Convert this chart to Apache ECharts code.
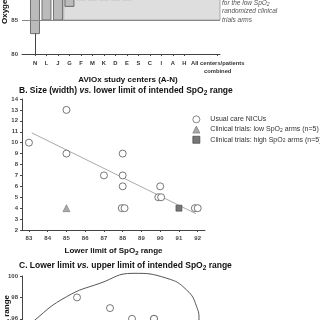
<!DOCTYPE html>
<html>
<head>
<meta charset="utf-8">
<script src="https://cdn.jsdelivr.net/npm/echarts@6/dist/echarts.min.js"></script>
<style>
html, body { margin: 0; padding: 0; background: #fff; }
#chart { width: 320px; height: 320px; }
</style>
</head>
<body>
<div id="chart"></div>
<script>
// A. intended SpO2 range per AVIOx centre (lower / upper limit)
const centers = ['N', 'L', 'J', 'G', 'F', 'M', 'K', 'D', 'E', 'S', 'C', 'I', 'A', 'H'];
const allLabel = 'All centers/patients\ncombined';
const rangeLow = [83, 85, 85, 87, 88, 88, 88, 88, 88, 90, 90, 90, 92, 92];
const rangeHigh = [93, 98, 94, 94, 97, 95, 94, 92, 92, 96, 95, 95, 96, 96];
const lowArmRange = [85, 89];

// B. width vs lower limit (twin circles drawn slightly apart, as in the figure)
const usualLower = [83, 85, 85, 87, 88, 88, 88, 87.95, 88.1, 90, 89.9, 90.05, 91.85, 92];
const usualWidth = [10, 13, 9, 7, 9, 7, 6, 4, 4, 6, 5, 5, 4, 4];
const lowArms = [[85, 4]];
const highArms = [[91, 4]];
const trendLine = [[83.15, 10.9], [91.9, 3.5]];
const bTicks = [83, 84, 85, 86, 87, 88, 89, 90, 91, 92];

// C. lower vs upper limit, with the enclosing curve
const lowArmsC = [[85, 89]];
const highArmsC = [[91, 95]];
const curveX = [79.6, 81.18, 84.06, 87.09, 90.09, 93.15, 94.97, 95.88, 96.09, 96.0];
const curveY = [94.2, 95.89, 98.07, 99.32, 100.25, 99.79, 98.69, 97.13, 95.89, 94.4];

const FONT = 'Liberation Sans';
const names = ['Usual care NICUs', 'Clinical trials: low SpO2 arms (n=5)', 'Clinical trials: high SpO2 arms (n=5)'];

const chart = echarts.init(document.getElementById('chart'));

const headRich = {
    b: { fontSize: 8.5, fontWeight: 'bold', lineHeight: 12, color: '#111', fontFamily: FONT },
    i: { fontSize: 8.5, fontWeight: 'bold', fontStyle: 'italic', lineHeight: 12, color: '#111', fontFamily: FONT },
    s: { fontSize: 6.5, fontWeight: 'bold', lineHeight: 6, verticalAlign: 'bottom', color: '#111', fontFamily: FONT }
};
const nameRich = {
    b: { fontSize: 8, fontWeight: 'bold', lineHeight: 11, color: '#111', fontFamily: FONT },
    s: { fontSize: 6, fontWeight: 'bold', lineHeight: 5, verticalAlign: 'bottom', color: '#111', fontFamily: FONT }
};
const tickLabel = { fontSize: 6, fontWeight: 'bold', color: '#444', fontFamily: FONT };
const axLine = { show: true, lineStyle: { color: '#444', width: 1 } };
const axTick = { show: true, length: 2, lineStyle: { color: '#444' } };

const centerTicks = centers.map((c, i) => i).concat([15.9]);

const option = {
    animation: false,
    backgroundColor: '#fff',
    title: [
        {
            text: '{b|B. Size (width) }{i|vs.}{b| lower limit of intended SpO}{s|2}{b| range}',
            left: 19, top: 85, padding: 0,
            textStyle: { rich: headRich }
        },
        {
            text: '{b|C. Lower limit }{i|vs.}{b| upper limit of intended SpO}{s|2}{b| range}',
            left: 19, top: 260, padding: 0,
            textStyle: { rich: headRich }
        }
    ],
    legend: {
        data: names,
        orient: 'vertical',
        left: 192.5, top: 115.5,
        itemWidth: 7, itemHeight: 7, itemGap: 2.5,
        padding: 0,
        itemStyle: { borderWidth: 0.7 },
        formatter: n => n.replace('SpO2', 'SpO{s|2}'),
        textStyle: {
            fontSize: 7, color: '#333', fontFamily: FONT, padding: [0, 0, 0, 5.5],
            rich: { s: { fontSize: 5, lineHeight: 4, verticalAlign: 'bottom', color: '#333', fontFamily: FONT } }
        }
    },
    graphic: [
        {
            type: 'text', x: 5, y: 24, rotation: Math.PI / 2,
            style: {
                text: 'Oxygen saturation (%)', fill: '#111',
                font: 'bold 8px "Liberation Sans"', textAlign: 'left', textVerticalAlign: 'middle'
            }
        },
        {
            type: 'text', x: 6.5, y: 295, rotation: Math.PI / 2,
            style: {
                text: '{b|Upper limit of SpO}{s|2}{b| range}', fill: '#111',
                textAlign: 'right', textVerticalAlign: 'middle', rich: nameRich
            }
        },
        {
            type: 'text', left: 222, top: -1,
            style: {
                text: 'for the low SpO{s|2}\nrandomized clinical\ntrials arms',
                fill: '#555', font: 'italic 6.5px "Liberation Sans"', lineHeight: 8.3,
                rich: { s: { fontSize: 5, fontStyle: 'italic', lineHeight: 5, verticalAlign: 'bottom', fill: '#555' } }
            }
        }
    ],
    grid: [
        { left: 22, top: -48, width: 198, height: 102, outerBoundsMode: 'none' },
        { left: 22, top: 99, width: 183, height: 131, outerBoundsMode: 'none' },
        { left: 22, top: 276, width: 198, height: 149.8, outerBoundsMode: 'none' }
    ],
    xAxis: [
        {
            gridIndex: 0, type: 'value', min: -1.13, max: 16.1,
            splitLine: { show: false },
            axisLine: axLine,
            axisTick: { show: true, length: 2, customValues: centerTicks, lineStyle: { color: '#444' } },
            axisLabel: {
                customValues: centerTicks, margin: 6, lineHeight: 7.5,
                fontSize: 5.8, fontWeight: 'bold', color: '#333', fontFamily: FONT,
                formatter: v => (v > 14 ? allLabel : centers[Math.round(v)])
            },
            name: 'AVIOx study centers (A-N)', nameLocation: 'middle', nameGap: 12,
            nameTextStyle: { fontSize: 8, fontWeight: 'bold', color: '#111', fontFamily: FONT, padding: [0, 0, 0, 14] }
        },
        {
            gridIndex: 1, type: 'value', min: 82.63, max: 92.39,
            splitLine: { show: false },
            axisLine: axLine,
            axisTick: { show: true, length: 2, customValues: bTicks, lineStyle: { color: '#444' } },
            axisLabel: Object.assign({ customValues: bTicks, margin: 5 }, tickLabel),
            name: '{b|Lower limit of SpO}{s|2}{b| range}', nameLocation: 'middle', nameGap: 15,
            nameTextStyle: { rich: nameRich }
        },
        {
            gridIndex: 2, type: 'value', min: 80, max: 98, interval: 2,
            splitLine: { show: false },
            axisLine: axLine, axisTick: axTick,
            axisLabel: tickLabel
        }
    ],
    yAxis: [
        {
            gridIndex: 0, type: 'value', min: 80, max: 95, interval: 5,
            splitLine: { show: false },
            axisLine: axLine, axisTick: axTick,
            axisLabel: Object.assign({ margin: 4 }, tickLabel)
        },
        {
            gridIndex: 1, type: 'value', min: 2, max: 14, interval: 1,
            splitLine: { show: false },
            axisLine: axLine, axisTick: axTick,
            axisLabel: Object.assign({ margin: 4 }, tickLabel),
            name: '{b|SpO}{s|2}{b| range size (width)}', nameLocation: 'middle', nameGap: 11, nameRotate: 90,
            nameTextStyle: { rich: nameRich }
        },
        {
            gridIndex: 2, type: 'value', min: 86, max: 100, interval: 2,
            splitLine: { show: false },
            axisLine: axLine, axisTick: axTick,
            axisLabel: Object.assign({ margin: 4 }, tickLabel)
        }
    ],
    series: [
        // shaded band of the low-SpO2 trial arms
        {
            type: 'line', xAxisIndex: 0, yAxisIndex: 0, data: [], z: 1, silent: true,
            markArea: {
                silent: true,
                itemStyle: { color: '#dedede', borderColor: '#999', borderWidth: 0.8 },
                data: [[{ xAxis: 2.5, yAxis: lowArmRange[0] }, { xAxis: 16.1, yAxis: lowArmRange[1] }]]
            },
            markLine: {
                silent: true, symbol: 'none', label: { show: false },
                lineStyle: { color: '#888', width: 1, type: 'solid' },
                data: [{ yAxis: lowArmRange[0] }]
            }
        },
        {
            type: 'custom', xAxisIndex: 0, yAxisIndex: 0, z: 3,
            data: centers.map((c, i) => [i, rangeLow[i], rangeHigh[i]]),
            renderItem: function (params, api) {
                const lo = api.coord([api.value(0), api.value(1)]);
                const hi = api.coord([api.value(0), api.value(2)]);
                const w = 9;
                return {
                    type: 'rect',
                    shape: { x: lo[0] - w / 2, y: hi[1], width: w, height: lo[1] - hi[1] },
                    style: { fill: '#bbb', stroke: '#555', lineWidth: 0.8 }
                };
            }
        },
        // panel B
        {
            type: 'line', xAxisIndex: 1, yAxisIndex: 1, data: trendLine, symbol: 'none', silent: true,
            lineStyle: { color: '#aaa', width: 1 }, z: 1
        },
        {
            name: names[0], type: 'scatter', xAxisIndex: 1, yAxisIndex: 1,
            data: usualLower.map((x, i) => [x, usualWidth[i]]),
            symbol: 'circle', symbolSize: 7,
            itemStyle: { color: '#fff', borderColor: '#555', borderWidth: 0.8, opacity: 1 }, z: 3
        },
        {
            name: names[1], type: 'scatter', xAxisIndex: 1, yAxisIndex: 1, data: lowArms,
            symbol: 'triangle', symbolSize: 7,
            itemStyle: { color: '#aaa', borderColor: '#777', borderWidth: 0.6, opacity: 1 }, z: 3
        },
        {
            name: names[2], type: 'scatter', xAxisIndex: 1, yAxisIndex: 1, data: highArms,
            symbol: 'rect', symbolSize: 6,
            itemStyle: { color: '#777', borderColor: '#444', borderWidth: 0.6, opacity: 1 }, z: 3
        },
        // panel C
        {
            type: 'line', xAxisIndex: 2, yAxisIndex: 2, data: curveX.map((x, i) => [x, curveY[i]]),
            symbol: 'none', smooth: true, clip: false, silent: true,
            lineStyle: { color: '#555', width: 1 }
        },
        {
            name: names[0], type: 'scatter', xAxisIndex: 2, yAxisIndex: 2,
            data: rangeLow.map((x, i) => [x, rangeHigh[i]]),
            symbol: 'circle', symbolSize: 7,
            itemStyle: { color: '#fff', borderColor: '#555', borderWidth: 0.8, opacity: 1 }
        },
        {
            name: names[1], type: 'scatter', xAxisIndex: 2, yAxisIndex: 2, data: lowArmsC,
            symbol: 'triangle', symbolSize: 7,
            itemStyle: { color: '#aaa', borderColor: '#777', borderWidth: 0.6, opacity: 1 }
        },
        {
            name: names[2], type: 'scatter', xAxisIndex: 2, yAxisIndex: 2, data: highArmsC,
            symbol: 'rect', symbolSize: 6,
            itemStyle: { color: '#777', borderColor: '#444', borderWidth: 0.6, opacity: 1 }
        }
    ]
};

chart.setOption(option);
</script>
</body>
</html>
